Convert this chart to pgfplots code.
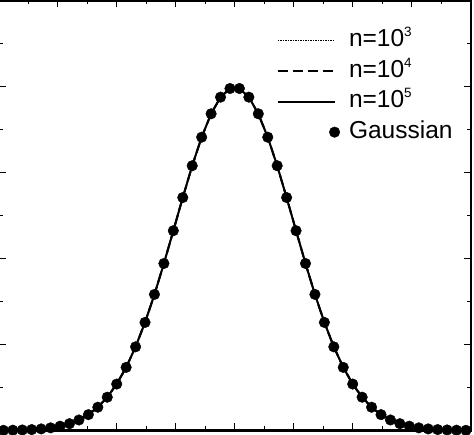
\documentclass[border=0pt]{standalone}
\usepackage{pgfplots}
\pgfplotsset{compat=1.18}
\usepackage{pgfplotstable}
\usepackage{fontspec}
\setmainfont{Liberation Sans}

\newcommand\pw[1]{\raisebox{10pt}{\fontsize{13.5}{14}\selectfont #1}}

% bin centres and densities
\pgfplotstableread{
x y
-3.92 0.00018
-3.76 0.00034
-3.60 0.00061
-3.44 0.00107
-3.28 0.00184
-3.12 0.00307
-2.96 0.00499
-2.80 0.00792
-2.64 0.01223
-2.48 0.01842
-2.32 0.02705
-2.16 0.03871
-2.00 0.05399
-1.84 0.07340
-1.68 0.09728
-1.52 0.12565
-1.36 0.15823
-1.20 0.19419
-1.04 0.23229
-0.88 0.27087
-0.72 0.30786
-0.56 0.34105
-0.40 0.36827
-0.24 0.38762
-0.08 0.39767
0.08 0.39767
0.24 0.38762
0.40 0.36827
0.56 0.34105
0.72 0.30786
0.88 0.27087
1.04 0.23229
1.20 0.19419
1.36 0.15823
1.52 0.12565
1.68 0.09728
1.84 0.07340
2.00 0.05399
2.16 0.03871
2.32 0.02705
2.48 0.01842
2.64 0.01223
2.80 0.00792
2.96 0.00499
3.12 0.00307
3.28 0.00184
3.44 0.00107
3.60 0.00061
3.76 0.00034
3.92 0.00018
}\gauss

\begin{document}
\begin{tikzpicture}
\begin{axis}[
  scale only axis, width=472pt, height=430pt,
  xmin=-4, xmax=4, ymin=0, ymax=0.5,
  xtick={-4,-3,...,4}, minor xtick={-3.5,-2.5,...,3.5},
  ytick={0,0.1,...,0.5}, minor ytick={0.05,0.15,...,0.45},
  xticklabels={}, yticklabels={},
  tick align=inside,
  major tick length=7pt, minor tick length=4pt,
  tick style={black, line width=1.4pt},
  axis line style={line width=2.3pt},
  legend style={draw=none, fill=none, inner sep=0pt,
    font=\fontsize{24.5}{28}\selectfont,
    nodes={inner sep=0pt, text height=18pt, text depth=6pt},
    row sep=6.5pt, column sep=9pt,
    at={(axis description cs:0.962,0.935)}, anchor=north east},
  legend cell align=left,
  legend image code/.code={\draw[#1] (0pt,0pt) -- (57pt,0pt);},
]
\addplot[black, line width=1.5pt, dash pattern=on 1.5pt off 1pt] table {\gauss};
\addlegendentry{n=10\pw{3}}
\addplot[black, line width=2pt, dash pattern=on 10pt off 5pt] table {\gauss};
\addlegendentry{n=10\pw{4}}
\addplot[black, line width=2pt] table {\gauss};
\addlegendentry{n=10\pw{5}}
\addplot[only marks, mark=*, mark size=5.3pt, black,
  legend image code/.code={\fill[black] (57pt,0pt) circle (5.3pt);}] table {\gauss};
\addlegendentry{Gaussian}
\coordinate (sw) at (rel axis cs:0,0);
\end{axis}
\pgfresetboundingbox
\useasboundingbox ([shift={(1.3pt,-4.5pt)}]sw) rectangle ++(474pt,435pt);
\end{tikzpicture}
\end{document}
